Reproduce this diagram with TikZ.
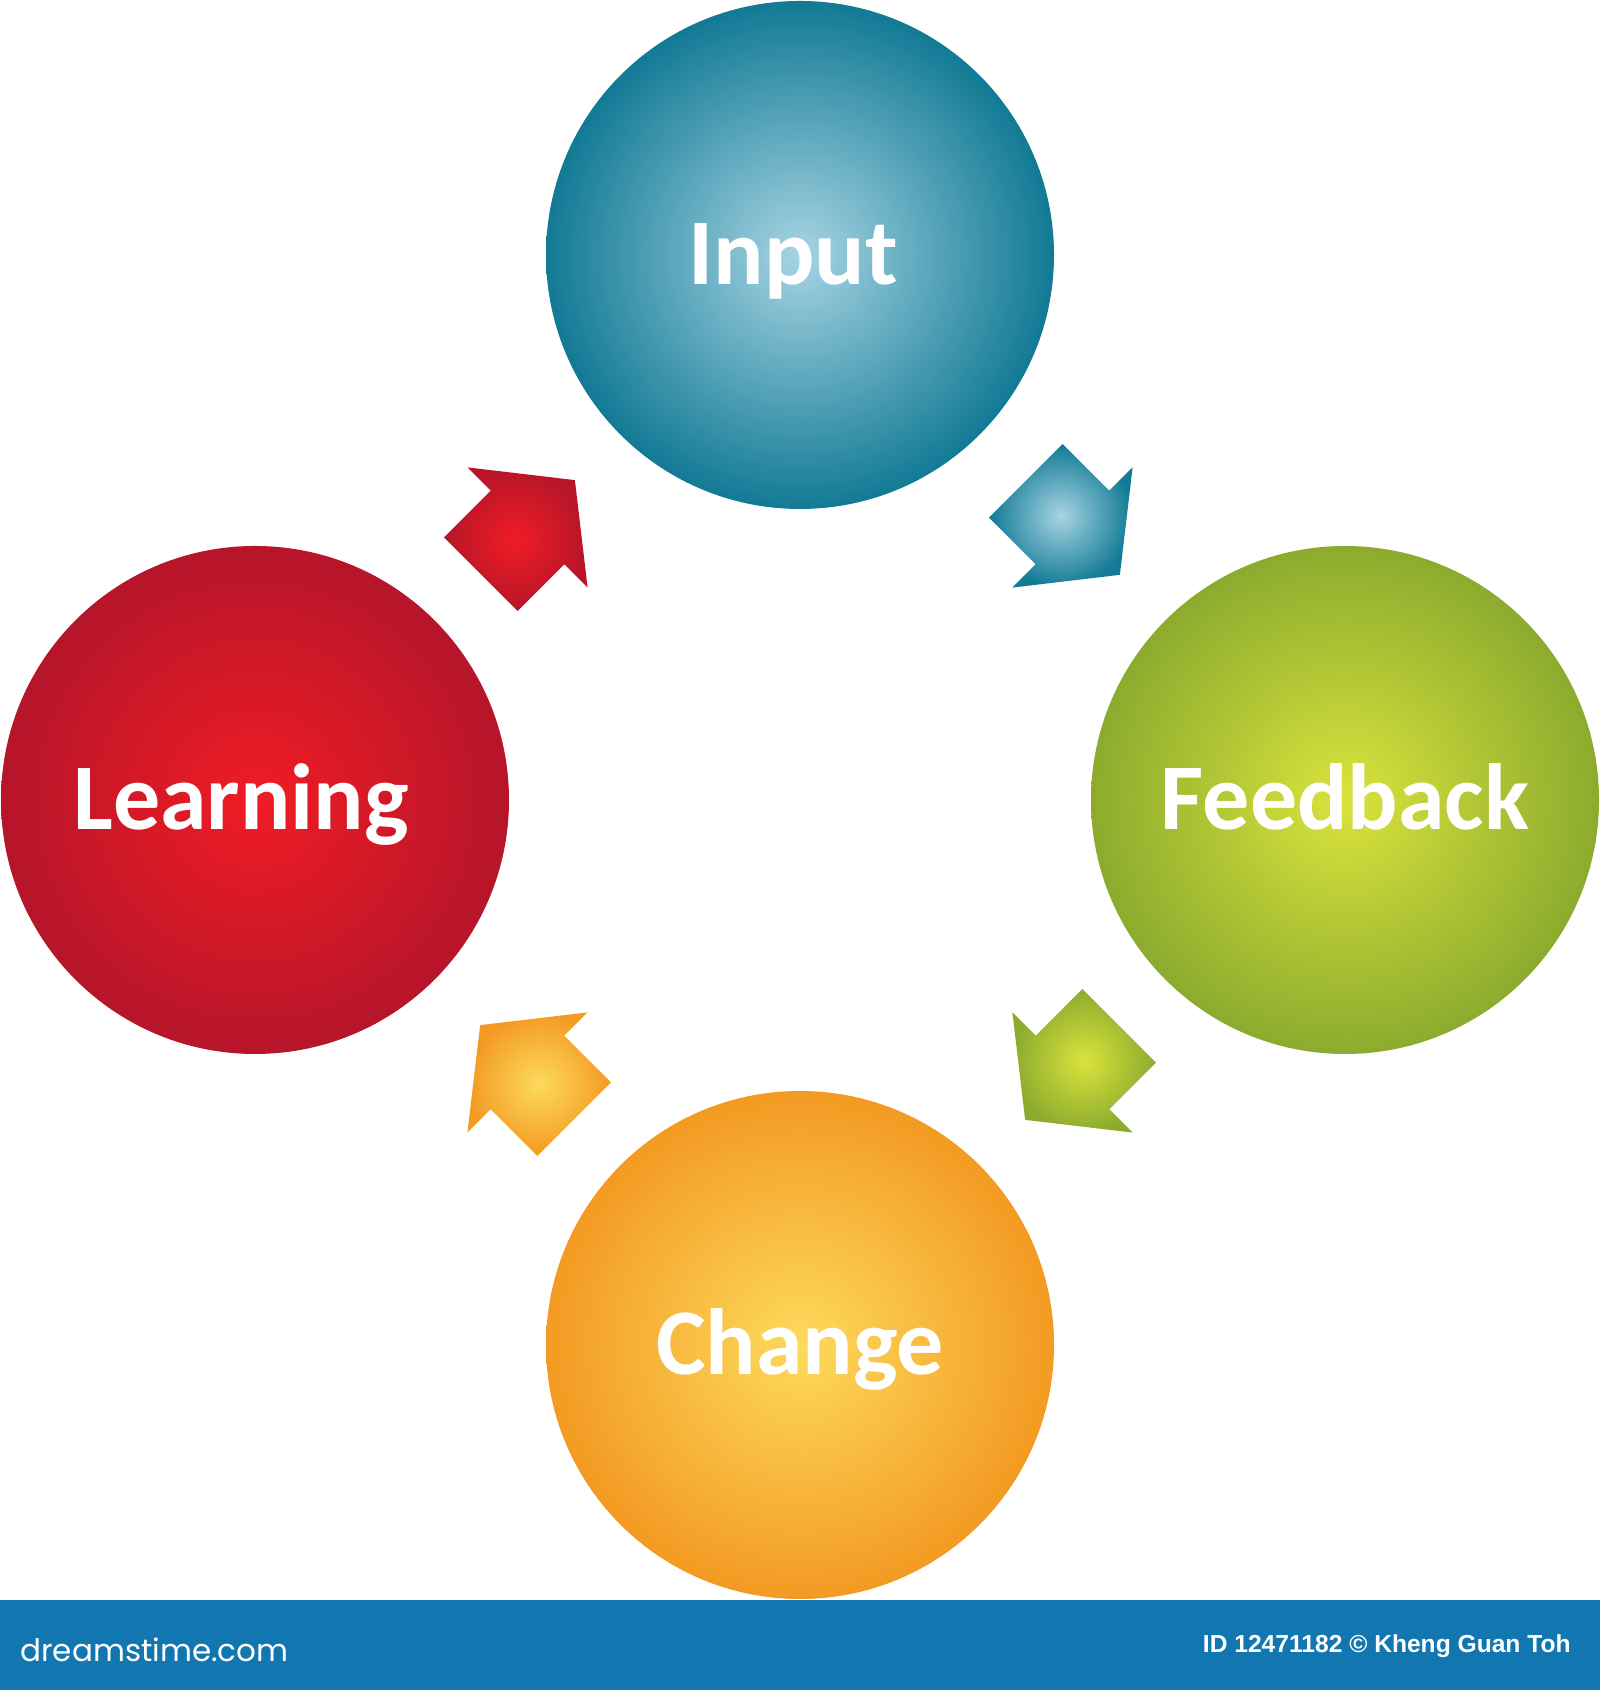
\documentclass[tikz,border=0pt]{standalone}
\usepackage{fontspec}
\usetikzlibrary{calc}
\newfontfamily\stagefont{Carlito}
\newfontfamily\logofont{Poppins}
\newfontfamily\creditfont{Liberation Sans}

\definecolor{inputin}{HTML}{A6D4E3}
\definecolor{inputout}{HTML}{127A95}
\definecolor{feedin}{HTML}{DAE33C}
\definecolor{feedout}{HTML}{8CAB2E}
\definecolor{changein}{HTML}{FCDA5C}
\definecolor{changeout}{HTML}{F39A22}
\definecolor{learnin}{HTML}{F01C24}
\definecolor{learnout}{HTML}{B6152A}
\definecolor{barblue}{HTML}{1277B0}

\tikzset{
  stage/.style={circle, minimum size=254pt, inner sep=0pt, text=white,
    text height=30pt, text depth=0pt,
    font=\stagefont\bfseries\fontsize{47}{47}\selectfont},
  footer/.style={text=white, inner sep=0pt},
}

% block arrow half way between two stages
\newcommand{\flowarrow}[5]{%
  \begin{scope}[shift={($(#1)!0.5!(#2)$)}, rotate=#3]
    \shade[inner color=#4, outer color=#5]
      (67,0) -- (0,85) -- (0,52) -- (-66,52) -- (-66,-52) -- (0,-52) -- (0,-85) -- cycle;
  \end{scope}}

\begin{document}
\begin{tikzpicture}[x=0.5pt,y=0.5pt]
\useasboundingbox (0,0) rectangle (1600,1690);

% Stages
\node[stage, inner color=inputin, outer color=inputout] (input) at (800,1435) {\hspace*{-7pt}Input};
\node[stage, inner color=feedin, outer color=feedout] (feedback) at (1345,890) {Feedback};
\node[stage, inner color=changein, outer color=changeout] (change) at (800,345) {Change};
\node[stage, inner color=learnin, outer color=learnout] (learning) at (255,890) {\hspace*{-14pt}Learning};

% Arrows
\flowarrow{input}{feedback}{-45}{inputin}{inputout}
\flowarrow{feedback}{change}{-135}{feedin}{feedout}
\flowarrow{change}{learning}{135}{changein}{changeout}
\flowarrow{learning}{input}{45}{learnin}{learnout}

% Footer
\fill[barblue] (0,0) rectangle (1600,90);
\node[footer, anchor=base west, font=\logofont\fontsize{15.5}{15.5}\selectfont] (logo) at (20,28) {dreamstime.com};
\node[footer, anchor=base east, font=\creditfont\bfseries\fontsize{12.3}{12.3}\selectfont] (credit) at (1571,37) {ID 12471182 © Kheng Guan Toh};
\end{tikzpicture}
\end{document}
